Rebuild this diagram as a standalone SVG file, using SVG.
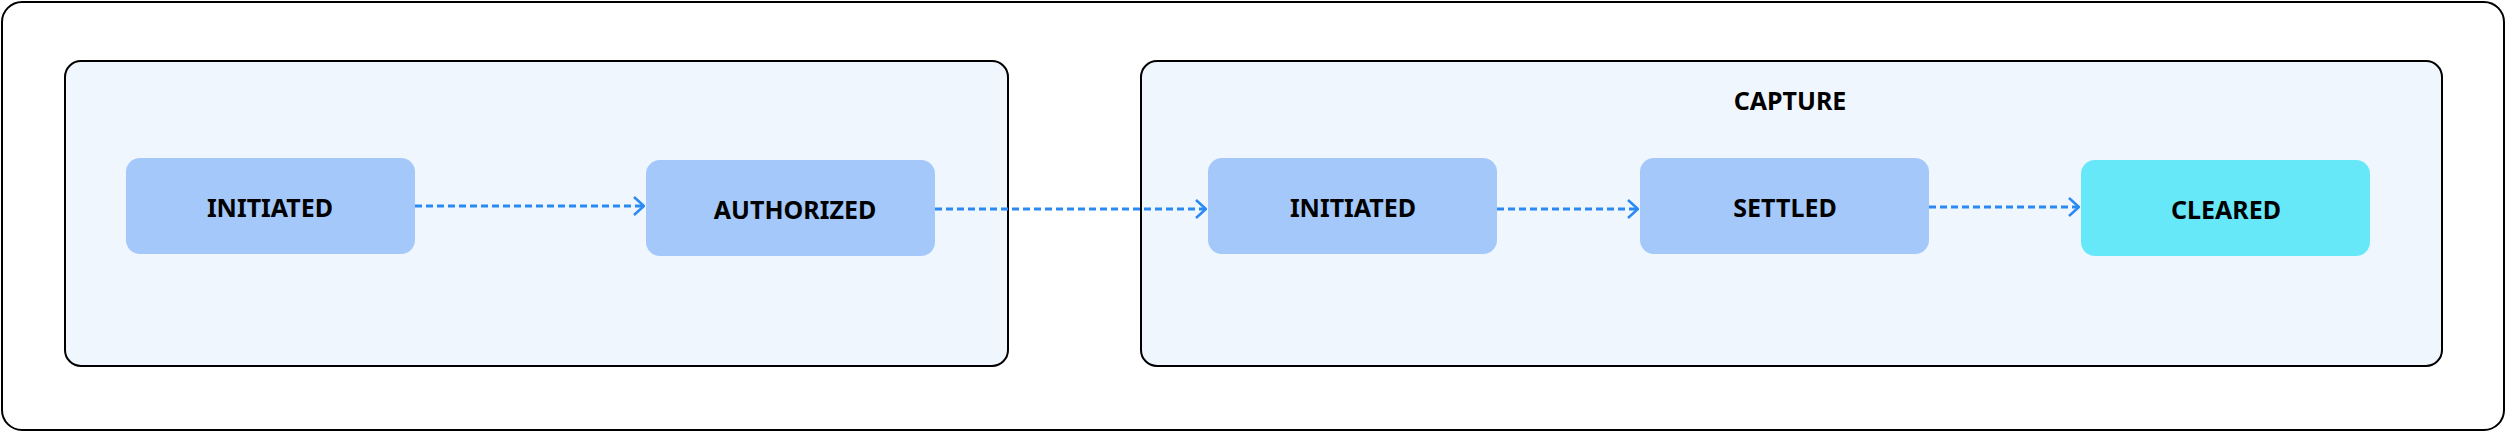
<svg xmlns="http://www.w3.org/2000/svg" width="2506" height="432" viewBox="0 0 2506 432">
<style>
.cl{fill:#eff6fe;stroke:#000;stroke-width:2}
.n{fill:#a4c8fa}
.t{font-family:"Noto Sans","Open Sans",sans-serif;font-weight:bold;font-size:25px;fill:#000;text-anchor:middle;dominant-baseline:central}
.e{fill:none;stroke:#2a8af2;stroke-width:3;stroke-dasharray:7 4}
</style>
<defs><marker id="a" viewBox="0 0 12 20" refX="11" refY="10" markerWidth="12" markerHeight="20" markerUnits="userSpaceOnUse" orient="auto"><path d="M1 1 L11 10 L1 19" fill="none" stroke="#2a8af2" stroke-width="2.5"/></marker></defs>
<rect x="2" y="2" width="2502" height="428" rx="20" fill="#fff" stroke="#000" stroke-width="2"/>
<g id="cluster1"><rect class="cl" x="65" y="61" width="943" height="305" rx="16"/></g>
<g id="capture"><rect class="cl" x="1141" y="61" width="1301" height="305" rx="16"/><text class="t" x="1790" y="100">CAPTURE</text></g>
<g id="connectors">
<path class="e" d="M415 206 H644" marker-end="url(#a)"/>
<path class="e" d="M935 209 H1206" marker-end="url(#a)"/>
<path class="e" d="M1497 209 H1638" marker-end="url(#a)"/>
<path class="e" d="M1929 207 H2079" marker-end="url(#a)"/>
</g>
<g id="initiated1"><rect class="n" x="126" y="158" width="289" height="96" rx="14"/><text class="t" x="270" y="207">INITIATED</text></g>
<g id="authorized"><rect class="n" x="646" y="160" width="289" height="96" rx="14"/><text class="t" x="795" y="209">AUTHORIZED</text></g>
<g id="initiated2"><rect class="n" x="1208" y="158" width="289" height="96" rx="14"/><text class="t" x="1353" y="207">INITIATED</text></g>
<g id="settled"><rect class="n" x="1640" y="158" width="289" height="96" rx="14"/><text class="t" x="1785" y="207">SETTLED</text></g>
<g id="cleared"><rect x="2081" y="160" width="289" height="96" rx="14" fill="#67e8f9"/><text class="t" x="2226" y="209">CLEARED</text></g>
</svg>
